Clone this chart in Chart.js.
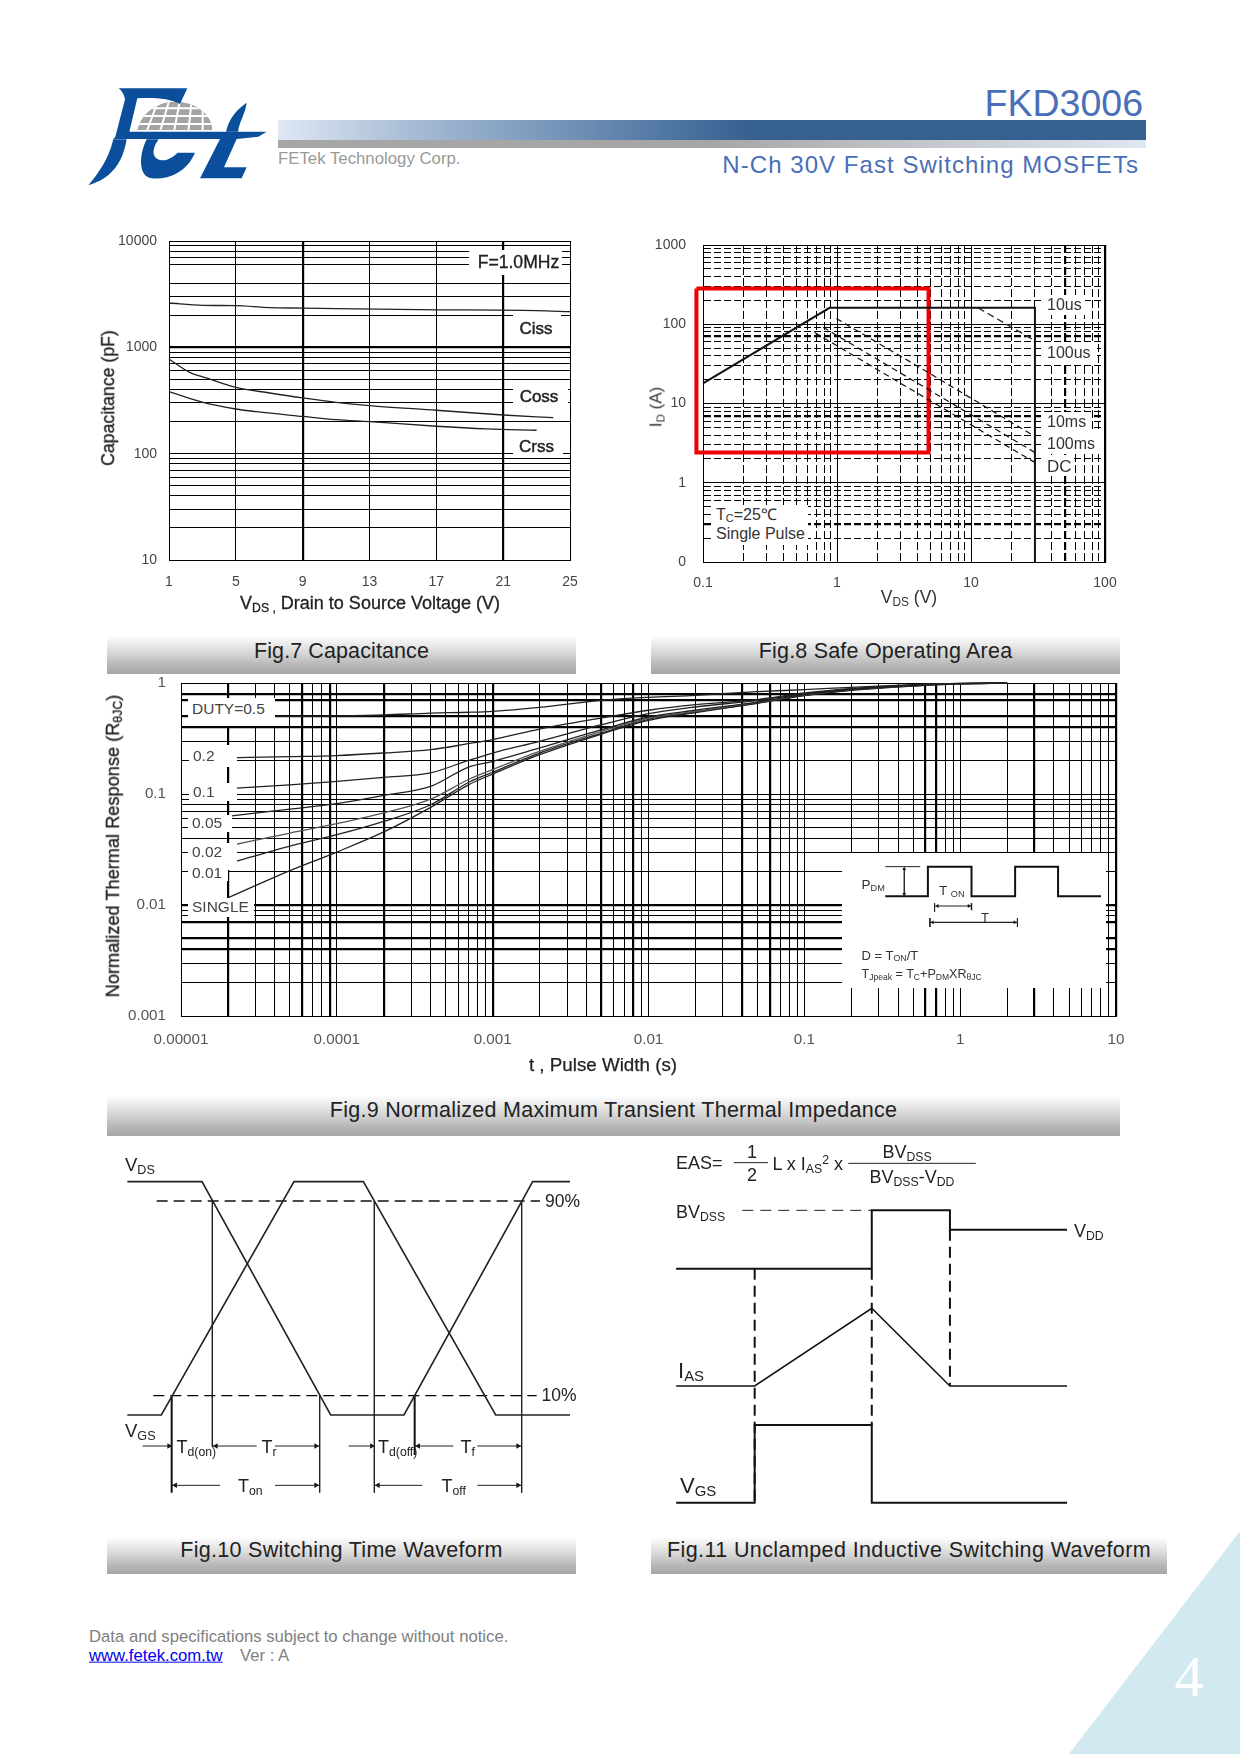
<!DOCTYPE html>
<html>
<head>
<meta charset="utf-8">
<title>FKD3006</title>
<script src="https://cdn.jsdelivr.net/npm/chart.js@4"></script>
<style>
html,body{margin:0;padding:0;background:#fff;}
#page{position:relative;width:1240px;height:1754px;overflow:hidden;font-family:"Liberation Sans",Arial,sans-serif;color:#222;}
#page canvas{position:absolute;display:block;}
.t{position:absolute;white-space:nowrap;line-height:1;}
.t sub{font-size:.68em;vertical-align:-.22em;line-height:0;}
.t sup{font-size:.68em;vertical-align:.5em;line-height:0;}
.m{position:absolute;background:#fff;}
.banner{position:absolute;background:linear-gradient(to bottom,#fff 0%,#d8d8d8 45%,#b4b4b4 80%,#a6a6a6 100%);text-align:center;color:#222;font-size:21.5px;}
</style>
</head>
<body>
<div id="page">
<svg style="position:absolute;left:80px;top:80px" width="200" height="110" viewBox="0 0 600 330">
 <defs><clipPath id="dome"><path d="M172 150 C185 95 235 65 285 65 C345 65 395 100 397 150Z"/></clipPath></defs>
 <g clip-path="url(#dome)">
  <rect x="160" y="60" width="250" height="95" fill="#a4a4a4"/>
  <g stroke="#fff" stroke-width="6" fill="none">
   <path d="M160 132H410M160 108H410M160 85H410"/>
   <path d="M200 155L235 60M240 155L268 60M282 155L300 60M325 155L335 60M368 155L368 60"/>
  </g>
 </g>
 <g fill="#0b4f9c">
  <path d="M116 25H322L300 72C270 55 220 52 172 55L148 155H560L535 170L470 177H100L106 170L135 58C132 42 125 32 116 25Z"/>
  <path d="M100 178H140C130 240 100 295 25 316C55 280 85 240 100 178Z"/>
  <path d="M200 178H236C216 205 214 234 240 240C264 245 284 226 293 218H345C320 278 262 300 215 295C175 290 176 226 200 178Z"/>
  <path d="M500 68C470 90 448 112 438 155H474C480 120 496 100 500 68Z"/>
  <path d="M420 177H470L432 262H500L485 295H360Z"/>
 </g>
</svg>
</div>
<script>
// ---- Fig.7 Capacitance ----
const capTickV = [1,5,9,13,17,21,25];
const capGridC = [10,20,30,40,50,60,70,80,90,100,200,300,400,500,600,700,800,900,1000,2000,3000,4000,6000,7000,8000,9000,10000];
const capMajorC = [10,100,1000,10000];
const capMajorLabels = ['10','100','1000','10000'];
const cissV = [1,3,5,7,9,11,16,23,25];
const cissC = [2612,2483,2466,2361,2340,2310,2260,2213,2163];
const cossV = [1,2.24,3.24,5,7.03,9,11,13,17,21,24];
const cossC = [777,582,515,420,372,334,304,283,256,231,218];
const crssV = [1,3.04,5,6.23,9,11,13,17,20,23];
const crssC = [383,304,263,248,224,209,200,181,171,166];

// ---- Fig.8 Safe Operating Area ----
const soaGridV = [0.1,0.2,0.3,0.4,0.5,0.6,0.7,0.8,0.9,1,2,3,4,5,6,7,8,9,10,20,30,40,50,60,70,80,90,100];
const soaMajorV = [0.1,1,10,100];
const soaMajorVLabels = ['0.1','1','10','100'];
const soaGridI = [0.1,0.2,0.3,0.4,0.5,0.6,0.7,0.8,0.9,1,2,3,4,5,6,7,8,9,10,20,30,40,50,60,70,80,90,100,200,300,400,500,600,700,800,900,1000];
const soaMajorI = [0.1,1,10,100,1000];
const soaMajorILabels = ['0','1','10','100','1000'];
const limitV = [0.1,0.88,30,30];
const limitI = [18,161,161,0.1];
const us10V = [11.3,30];
const us10I = [161,62];
const ms10V = [0.99,4.66,30];
const ms10I = [118,25.3,3.84];
const ms100V = [0.787,30];
const ms100I = [91.6,2.41];
const dcV = [0.682,30];
const dcI = [78.5,1.8];
const redBoxV = [0.0893,4.82,4.82,0.0893,0.0893];
const redBoxI = [282,282,2.41,2.41,282];

// ---- Fig.9 Thermal impedance ----
const zGridT = [];
[1e-5,1e-4,1e-3,1e-2,1e-1,1].forEach(d=>[1,2,3,4,5,6,7,8,9].forEach(k=>zGridT.push(+(k*d).toPrecision(2))));
zGridT.push(10);
const zMajorT = [0.00001,0.0001,0.001,0.01,0.1,1,10];
const zMajorTLabels = ['0.00001','0.0001','0.001','0.01','0.1','1','10'];
const zThickT = [2e-5,6e-5,9e-5,2e-4,1e-3,5e-3,8e-3,4e-2,6e-2,0.6,0.7,3,10];
const zGridR = [0.001,0.002,0.003,0.004,0.005,0.007,0.008,0.009,0.01,0.02,0.03,0.04,0.05,0.06,0.07,0.08,0.09,0.1,0.2,0.3,0.4,0.5,0.7,0.8,1];
const zMajorR = [0.001,0.01,0.1,1];
const zMajorRLabels = ['0.001','0.01','0.1','1'];
const zThickR = [0.004,0.005,0.007,0.01,0.4,0.5,0.7,0.8];
const tGrid = [2e-5,5e-5,1e-4,2e-4,4e-4,7e-4,1e-3,2e-3,5e-3,1e-2,2e-2,5e-2,0.1,0.2,0.5,1,2];
const zDuty50 = [.50,.50,.505,.515,.536,.545,.556,.604,.698,.743,.774,.836,.871,.914,.966,.993,1];
const zDuty20 = [.212,.217,.222,.234,.251,.284,.309,.385,.484,.568,.638,.708,.813,.889,.959,.993,1];
const zDuty10 = [.112,.121,.130,.141,.155,.201,.234,.298,.421,.529,.608,.698,.796,.883,.953,.986,1];
const zDuty05 = [.063,.073,.082,.097,.117,.175,.197,.260,.380,.494,.568,.674,.785,.871,.946,.986,1];
const zDuty02 = [.034,.0445,.054,.0675,.090,.135,.166,.242,.367,.481,.556,.670,.780,.871,.946,.986,1];
const zDuty01 = [.0236,.034,.043,.0567,.080,.127,.157,.234,.354,.471,.548,.660,.774,.865,.940,.980,1];
const zSingle = [.0116,.0204,.030,.0455,.0758,.121,.151,.226,.347,.461,.541,.656,.769,.859,.940,.980,1];

// ---- Fig.9 inset pulse train (arbitrary time / level units) ----
const pulseT = [795,923,923,1054,1054,1185,1185,1314,1314,1443];
const pulseL = [680,680,591,591,680,680,591,591,680,680];

// ---- Fig.10 switching waveform (arbitrary time / level units) ----
const swTimeA = [112,336,722,942,1328,1440];
const swLevelA = [155,155,855,855,155,155];
const swTimeB = [112,214,612,820,1217,1440];
const swLevelB = [855,855,155,155,855,855];

// ---- Fig.11 unclamped inductive waveform (arbitrary time / level units) ----
const uisVdsT = [105,673,673,900,900,1240];
const uisVdsL = [416,416,241,241,299,299];
const uisIasT = [105,333,673,900,1240];
const uisIasL = [768,768,535,768,768];
const uisVgsT = [105,333,333,673,673,1240];
const uisVgsL = [1118,1118,885,885,1118,1118];

const FONT = '"Liberation Sans",Arial,sans-serif';
const page = document.getElementById('page');
const zip = (xs,ys)=>xs.map((x,i)=>({x,y:ys[i]}));
const lineDs = (label,xs,ys,color,width,dash,extra)=>Object.assign({type:'scatter',label,data:zip(xs,ys),showLine:true,borderColor:color,backgroundColor:color,borderWidth:width,borderDash:dash||[],pointRadius:0,clip:false,fill:false},extra||{});

function canvas(x,y,w,h){
  const c=document.createElement('canvas');
  c.width=w;c.height=h;c.style.left=x+'px';c.style.top=y+'px';c.style.width=w+'px';c.style.height=h+'px';
  page.appendChild(c);return c;
}
function T(x,y,html,o){
  o=o||{};
  const d=document.createElement('div');d.className='t';d.innerHTML=html;
  const a=o.anchor==='c'?'-50%':o.anchor==='r'?'-100%':'0';
  d.style.left=x+'px';d.style.top=y+'px';
  d.style.fontSize=(o.size||16)+'px';
  d.style.color=o.color||'#222';
  if(o.weight)d.style.fontWeight=o.weight;
  if(o.ls)d.style.letterSpacing=o.ls+'px';
  if(o.stroke)d.style.webkitTextStroke=o.stroke+'px '+(o.color||'#222');
  if(o.family)d.style.fontFamily=o.family;
  d.style.transform='translate('+a+',-50%)'+(o.rot?' rotate('+o.rot+'deg)':'');
  page.appendChild(d);return d;
}
function M(x,y,w,h){const d=document.createElement('div');d.className='m';d.style.cssText='left:'+x+'px;top:'+y+'px;width:'+w+'px;height:'+h+'px;';page.appendChild(d);}
function banner(x,y,w,h,text,lh,ls){
  const d=document.createElement('div');d.className='banner';
  d.style.cssText='left:'+x+'px;top:'+y+'px;width:'+w+'px;height:'+h+'px;line-height:'+lh+'px;letter-spacing:'+ls+'px;';
  d.textContent=text;page.appendChild(d);
}
function axis(o){
  return {
    type:o.type,position:o.pos,min:o.min,max:o.max,
    afterBuildTicks:s=>{s.ticks=o.values.map(v=>({value:v}));},
    afterFit:s=>{ if(o.pos==='left')s.width=o.size; else s.height=o.size; s.paddingTop=0;s.paddingBottom=0;s.paddingLeft=0;s.paddingRight=0; },
    ticks:{autoSkip:false,maxRotation:0,minRotation:0,padding:o.pad,color:o.color||'#444',font:{family:FONT,size:o.font||14},
      callback:v=>{const i=o.majors.indexOf(v);return i>=0?o.labels[i]:'';}},
    grid:{drawTicks:false,tickLength:0,color:'#000',lineWidth:c=>(c.tick&&o.thick&&o.thick.includes(c.tick.value))?2.2:1},
    border:{display:true,color:'#000',width:1,dash:o.dash||undefined}
  };
}
function plotChart(box,plot,xa,ya,datasets){
  const c=canvas(box.x,box.y,box.w,box.h);
  xa.size=box.y+box.h-plot.b; ya.size=plot.l-box.x;
  return new Chart(c,{type:'scatter',data:{datasets},options:{
    responsive:false,animation:false,devicePixelRatio:1,
    layout:{autoPadding:false,padding:{top:plot.t-box.y,right:box.x+box.w-plot.r,left:0,bottom:0}},
    plugins:{legend:{display:false},tooltip:{enabled:false},title:{display:false}},
    scales:{x:axis(xa),y:axis(ya)}
  }});
}
function diagram(box,dom,datasets,bg){
  const c=canvas(box.x,box.y,box.w,box.h);
  if(bg)c.style.background=bg;
  return new Chart(c,{type:'scatter',data:{datasets},options:{
    responsive:false,animation:false,devicePixelRatio:1,
    layout:{autoPadding:false,padding:0},
    plugins:{legend:{display:false},tooltip:{enabled:false}},
    scales:{x:{type:'linear',display:false,min:dom.x0,max:dom.x1},y:{type:'linear',display:false,reverse:true,min:dom.y0,max:dom.y1}}
  }});
}
const arrowDs=(label,xs,ys,rots)=>({type:'scatter',label,data:zip(xs,ys),showLine:false,pointStyle:'triangle',pointRadius:3.2,pointRotation:c=>rots[c.dataIndex],pointBackgroundColor:'#111',pointBorderColor:'#111',pointBorderWidth:0,clip:false});

/* header */
function rect(x,y,w,h,bg){const d=document.createElement('div');d.style.cssText='position:absolute;left:'+x+'px;top:'+y+'px;width:'+w+'px;height:'+h+'px;background:'+bg+';';page.appendChild(d);}
rect(278,120,868,20,'linear-gradient(to right,#dfe7f3 0%,#a9bdd6 15%,#7d9abd 30%,#4f76a3 45%,#36608f 55%,#36608f 100%)');
rect(278,140,868,8,'linear-gradient(to right,#a6a6a6 0%,#a6a6a6 50%,#c4c7cc 75%,#dfe7f3 100%)');
T(1143,104,'FKD3006',{size:37.5,color:'#4a6fb8',anchor:'r'});
T(1139,165,'N-Ch 30V Fast Switching MOSFETs',{size:24,color:'#4a6fb8',anchor:'r',ls:1.05});
T(278,159,'FETek Technology Corp.',{size:16.8,color:'#999'});

/* triangle & footer */
const tri=document.createElement('div');tri.style.cssText='position:absolute;left:1069px;top:1531px;width:171px;height:223px;background:#d2e9f2;clip-path:polygon(100% 0,100% 100%,0 100%);';page.appendChild(tri);
T(1189,1677,'4',{size:58,color:'#fff',anchor:'c',family:'"Liberation Serif",serif'});
T(89,1636.5,'Data and specifications subject to change without notice.',{size:16.7,color:'#808080'});
T(89,1656,'<span style="color:#0000ee;text-decoration:underline">www.fetek.com.tw</span>',{size:16.7});
T(240,1656,'Ver : A',{size:16.7,color:'#808080'});

/* Fig.7 */
plotChart({x:100,y:225,w:500,h:375},{l:169,r:570,t:241,b:560},
 {type:'linear',pos:'bottom',min:1,max:25,values:capTickV,majors:capTickV,labels:capTickV.map(String),thick:[9,21],pad:14,size:40},
 {type:'logarithmic',pos:'left',min:10,max:10000,values:capGridC,majors:capMajorC,labels:capMajorLabels,thick:[1000],pad:12,size:69},
 [lineDs('Ciss',cissV,cissC,'#222',1.3,null,{cubicInterpolationMode:'monotone'}),
  lineDs('Coss',cossV,cossC,'#222',1.3,null,{cubicInterpolationMode:'monotone'}),
  lineDs('Crss',crssV,crssC,'#222',1.3,null,{cubicInterpolationMode:'monotone'})]);
M(469,250,93,25);M(513,314,48,29);M(513,389,55,15);M(513,432,50,26);
T(518.5,262.5,'F=1.0MHz',{size:17.6,anchor:'c',stroke:.35});
T(536,327.5,'Ciss',{size:17,anchor:'c',stroke:.45});
T(539,395.5,'Coss',{size:17,anchor:'c',stroke:.45});
T(536.5,445.5,'Crss',{size:17,anchor:'c',stroke:.45});
T(109,398,'Capacitance (pF)',{size:17.7,anchor:'c',rot:-90,stroke:.3});
T(370,603,'V<sub>DS ,</sub> Drain to Source Voltage (V)',{size:18,anchor:'c',stroke:.3});
banner(107,635,469,39,'Fig.7 Capacitance',32,0.1);

/* Fig.8 */
plotChart({x:640,y:225,w:500,h:375},{l:703,r:1105,t:245,b:562},
 {type:'logarithmic',pos:'bottom',min:0.1,max:100,values:soaGridV,majors:soaMajorV,labels:soaMajorVLabels,thick:[100,50],pad:13,size:38,dash:c=>(c.tick&&soaMajorV.includes(c.tick.value))?[]:[8,3]},
 {type:'logarithmic',pos:'left',min:0.1,max:1000,values:soaGridI,majors:soaMajorI,labels:soaMajorILabels,thick:[0.3,7,70],pad:17,size:63,dash:c=>(c.tick&&soaMajorI.includes(c.tick.value))?[]:[7,3]},
 [lineDs('Limit',limitV,limitI,'#111',2),
  lineDs('10us',us10V,us10I,'#333',1.3,[7,4]),
  lineDs('10ms',ms10V,ms10I,'#111',1.2,[6,4]),
  lineDs('100ms',ms100V,ms100I,'#111',1.2,[6,4]),
  lineDs('DC',dcV,dcI,'#111',1.2,[6,4]),
  lineDs('Highlight',redBoxV,redBoxI,'#f00000',4)]);
M(1041,295,44,20);M(1041,343,56,20);M(1041,412,50,19);M(1041,431,60,22);M(1041,455,32,19);M(713,505,95,40);
T(1047,305,'10us',{size:16,color:'#333'});
T(1047,353,'100us',{size:16,color:'#333'});
T(1047,422,'10ms',{size:16,color:'#333'});
T(1047,444,'100ms',{size:16,color:'#333'});
T(1047,466,'DC',{size:17,color:'#333'});
T(716,515,'T<sub>C</sub>=25℃',{size:16,color:'#333'});
T(716,534,'Single Pulse',{size:16,color:'#333'});
T(656,407,'I<sub>D</sub> (A)',{size:17,anchor:'c',rot:-90,color:'#333'});
T(909,598,'V<sub>DS</sub> (V)',{size:17.5,anchor:'c',color:'#333'});
banner(651,635,469,39,'Fig.8 Safe Operating Area',32,0.2);

/* Fig.9 */
plotChart({x:120,y:670,w:1015,h:385},{l:181,r:1116,t:683,b:1016},
 {type:'logarithmic',pos:'bottom',min:0.00001,max:10,values:zGridT,majors:zMajorT,labels:zMajorTLabels,thick:zThickT,pad:15,size:39,font:15.2,color:'#555'},
 {type:'logarithmic',pos:'left',min:0.001,max:1,values:zGridR,majors:zMajorR,labels:zMajorRLabels,thick:zThickR,pad:15,size:61,font:15.2,color:'#555'},
 [lineDs('DUTY=0.5',tGrid,zDuty50,'#222',1.3,null,{cubicInterpolationMode:'monotone'}),
  lineDs('0.2',tGrid,zDuty20,'#222',1.3,null,{cubicInterpolationMode:'monotone'}),
  lineDs('0.1',tGrid,zDuty10,'#222',1.3,null,{cubicInterpolationMode:'monotone'}),
  lineDs('0.05',tGrid,zDuty05,'#222',1.3,null,{cubicInterpolationMode:'monotone'}),
  lineDs('0.02',tGrid,zDuty02,'#555',1.3,null,{cubicInterpolationMode:'monotone'}),
  lineDs('0.01',tGrid,zDuty01,'#222',1.3,null,{cubicInterpolationMode:'monotone'}),
  lineDs('SINGLE',tGrid,zSingle,'#222',1.3,null,{cubicInterpolationMode:'monotone'})]);
M(188,698,87,28);M(189,745,48,22);M(189,783,48,18);M(188,815,44,17);M(188,843,49,27);M(188,870,40,11);M(188,898,66,19);
const lblC='#444';
T(192,709,'DUTY=0.5',{size:15.5,color:lblC});
T(193,755.7,'0.2',{size:15.5,color:lblC});
T(193,791.7,'0.1',{size:15.5,color:lblC});
T(192,823,'0.05',{size:15.5,color:lblC});
T(192,851.7,'0.02',{size:15.5,color:lblC});
T(192,873,'0.01',{size:15.5,color:lblC});
T(192,906.7,'SINGLE',{size:15.5,color:lblC});
T(112.5,846,'Normalized Thermal Response (R<sub>θJC</sub>)',{size:18.2,anchor:'c',rot:-90,stroke:.3});
T(603,1065,'t , Pulse Width (s)',{size:18.8,anchor:'c',stroke:.25});
banner(107,1095,1013,41,'Fig.9 Normalized Maximum Transient Thermal Impedance',30,0.28);

/* Fig.9 inset */
diagram({x:842,y:853,w:264,h:135},{x0:665,x1:1458,y0:550,y1:955},[
  lineDs('Pulse',pulseT,pulseL,'#111',2),
  lineDs('Ref',[795,900],[591,591],'#222',1),
  lineDs('PDM',[852,852],[595,676],'#222',1.4),
  lineDs('Ton',[945,1054],[709,709],'#222',1.2),
  lineDs('Ton0',[943,943],[700,727],'#222',1),
  lineDs('Ton1',[1054,1054],[700,722],'#222',1.5),
  lineDs('T',[929,1192],[758,758],'#222',1.2),
  lineDs('T0',[929,929],[745,772],'#222',1),
  lineDs('T1',[1192,1192],[745,772],'#222',1),
  Object.assign(arrowDs('Arrows',[852,852,952,1046,937,1184],[598,673,709,709,758,758],[0,180,270,90,270,90]),{pointRadius:2.2})
],'#fff');
T(861.5,885,'P<sub>DM</sub>',{size:13.5,color:'#333'});
T(939,890.5,'T <sub>ON</sub>',{size:13.5,color:'#333'});
T(981,916.5,'T',{size:13,color:'#333'});
T(861.5,955,'D = T<sub>ON</sub>/T',{size:13,color:'#333'});
T(861.5,974,'T<sub>Jpeak</sub> = T<sub>C</sub>+P<sub>DM</sub>XR<sub>θJC</sub>',{size:12.6,color:'#333'});

/* Fig.10 */
diagram({x:90,y:1130,w:520,h:460},{x0:0,x1:1560,y0:0,y1:1380},[
  lineDs('VDS',swTimeA,swLevelA,'#222',1.6),
  lineDs('VGS',swTimeB,swLevelB,'#222',1.6),
  lineDs('90%',[200,1350],[213,213],'#111',1.7,[11,6]),
  lineDs('10%',[190,1340],[797,797],'#000',1.1,[11,6]),
  lineDs('t1',[245,245],[797,1088],'#111',2),
  lineDs('t2',[367,367],[213,950],'#222',1),
  lineDs('t3',[689,689],[797,1088],'#222',1),
  lineDs('t4',[853,853],[213,1088],'#222',1),
  lineDs('t5',[974,974],[797,975],'#111',2),
  lineDs('t6',[1295,1295],[213,1088],'#222',1),
  lineDs('a1',[158,245],[948,948],'#222',1),
  lineDs('a2',[367,500],[948,948],'#222',1),
  lineDs('a3',[555,689],[948,948],'#222',1),
  lineDs('a4',[776,853],[948,948],'#222',1),
  lineDs('a5',[974,1090],[948,948],'#222',1),
  lineDs('a6',[1162,1295],[948,948],'#222',1),
  lineDs('b1',[245,390],[1066,1066],'#222',1),
  lineDs('b2',[555,689],[1066,1066],'#222',1),
  lineDs('b3',[853,997],[1066,1066],'#222',1),
  lineDs('b4',[1162,1295],[1066,1066],'#222',1),
  arrowDs('Arrows',[237,378,678,845,985,1284,256,678,864,1284],[948,948,948,948,948,948,1066,1066,1066,1066],[90,270,90,90,270,90,270,90,270,90])
]);
T(125,1164.5,'V<sub>DS</sub>',{size:18.5});
T(125,1431,'V<sub>GS</sub>',{size:18.5});
T(545,1201.5,'90%',{size:17.5});
T(541.5,1395.5,'10%',{size:17.5});
T(176.5,1447,'T<sub>d(on)</sub>',{size:18});
T(261.5,1447,'T<sub>r</sub>',{size:18});
T(378,1447,'T<sub>d(off)</sub>',{size:18});
T(460.5,1447,'T<sub>f</sub>',{size:18});
T(238,1486,'T<sub>on</sub>',{size:18});
T(441.5,1486,'T<sub>off</sub>',{size:18});
banner(107,1537,469,37,'Fig.10 Switching Time Waveform',27,0.3);

/* Fig.11 */
diagram({x:640,y:1130,w:540,h:460},{x0:0,x1:1568,y0:0,y1:1380},[
  lineDs('VDS',uisVdsT,uisVdsL,'#111',2),
  lineDs('BVDSS level',[297,673],[241,241],'#222',1,[11,7]),
  lineDs('IAS',uisIasT,uisIasL,'#111',1.5),
  lineDs('VGS',uisVgsT,uisVgsL,'#111',2),
  lineDs('d1',[333,333],[416,1118],'#111',2,[11,6]),
  lineDs('d2',[673,673],[416,885],'#111',2,[11,6]),
  lineDs('d3',[900,900],[299,768],'#111',2,[11,6]),
  lineDs('f1',[272,372],[98,98],'#222',1),
  lineDs('f2',[605,975],[100,100],'#222',1)
]);
T(676,1163,'EAS=',{size:18});
T(752,1151.5,'1',{size:18,anchor:'c'});
T(752,1175,'2',{size:18,anchor:'c'});
T(772.5,1163.5,'L x I<sub>AS</sub><sup>2</sup> x',{size:18});
T(882.5,1152,'BV<sub>DSS</sub>',{size:18});
T(869.5,1177,'BV<sub>DSS</sub>-V<sub>DD</sub>',{size:18});
T(676,1212,'BV<sub>DSS</sub>',{size:18});
T(1074,1231,'V<sub>DD</sub>',{size:18});
T(678,1371,'I<sub>AS</sub>',{size:22});
T(680,1486,'V<sub>GS</sub>',{size:22});
banner(651,1537,516,37,'Fig.11 Unclamped Inductive Switching Waveform',27,0.4);
</script>
</body>
</html>
